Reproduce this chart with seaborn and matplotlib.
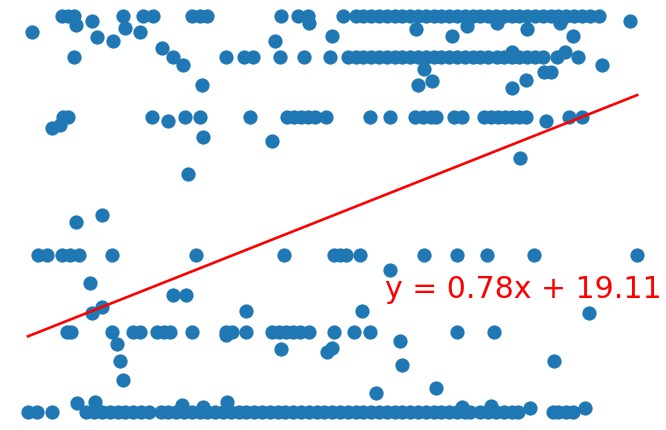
import numpy as np
import pandas as pd
import matplotlib
matplotlib.use('Agg')
import matplotlib.pyplot as plt
import seaborn as sns


# points, grouped by the horizontal band they sit in
# top band (y = 100)
x_top = [4.4, 5.1, 5.9, 12.2, 14.7, 16.0, 21.0, 22.1, 22.9, 32.4, 34.6, 35.9, 40.4,
         42, 43, 44, 45, 46, 47, 48, 49, 50, 51, 52, 53, 54, 55, 56, 57, 58, 59,
         60, 61, 62, 63, 64, 65, 66, 67, 68, 69, 70, 71, 72, 73.2]
y_top = [100] * len(x_top)

# band around y = 89.6
x_b90 = [5.9, 18.6, 25.4, 27.7, 28.8, 32.3, 35.4, 38.7,
         41, 42, 43, 44, 45, 46, 47, 48, 49, 50, 51, 52, 53, 54, 55, 56, 57, 58, 59,
         60.1, 61, 62, 63, 64, 65, 66, 67.8, 70.5]
y_b90 = [89.6] * len(x_b90)

# band around y = 74.5
x_b75 = [4.5, 5.1, 15.9, 20.1, 22.1, 28.5, 33.2, 34.1, 35.0, 35.9, 36.8, 38.2, 43.8,
         46.4, 49.6, 50.6, 51.7, 52.3, 54.6, 55.6, 58.5, 59.4, 60.3, 61.2, 62.1, 62.9,
         63.8, 69.4, 71.0]
y_b75 = [74.5] * len(x_b75)

# band around y = 39.6
x_b40 = [1.3, 2.4, 4.4, 5.4, 6.5, 10.8, 21.5, 32.8, 39.2, 40.0, 40.8, 42.6, 50.8,
         55.0, 58.8, 64.9, 78.1]
y_b40 = [39.6] * len(x_b40)

# band around y = 20.2
x_b20 = [5.0, 5.5, 10.8, 13.5, 14.4, 16.5, 17.4, 18.2, 21.0, 25.4, 26.2, 27.9, 31.3,
         32.2, 33.1, 34.0, 34.9, 36.0, 39.2, 41.8, 43.8, 55.0, 59.7]
y_b20 = [20.2] * len(x_b20)

# bottom band (y = 0)
x_bot = [0.0, 1.2, 3.1, 7.5, 8.5, 9.5, 10.5, 11.5, 12.5, 13.5, 14.5, 15.5,
         17, 18, 19, 20, 21, 22, 23, 24, 25, 26, 27, 28, 29, 30, 31, 32, 33, 34, 35,
         36, 37, 38, 39, 40, 41, 42, 43, 44, 45, 46, 47, 48, 49, 50, 51, 52, 53,
         54, 55, 56, 56.7, 58, 59, 60, 61, 62, 62.8, 67.3, 68, 69, 69.9]
y_bot = [0] * len(x_bot)

# scattered points between the bands
x_other = [6.2, 8.2, 12.4, 0.5, 8.8, 10.9, 14.4, 17.2, 36.0, 49.7, 56.3, 60.1, 64.0,
           68.2, 77.2, 31.7, 39.0, 54.4, 69.9,
           62.1, 68.8, 19.9, 73.6, 50.8, 50.0, 51.8, 66.2, 67.1, 63.8, 62.1, 22.3,
           3.1, 4.1, 17.9, 66.4, 22.4, 31.3, 20.5, 63.1, 9.5, 6.2,
           46.4, 7.9, 18.6, 20.3, 8.2, 9.5, 27.9, 42.8, 71.9, 25.4,
           11.4, 11.8, 12.2, 32.4, 38.3, 39.0, 47.7, 47.9, 67.4, 44.6, 52.3,
           6.3, 8.6, 19.7, 22.4, 25.5, 64.4, 71.4, 55.6, 59.3]
y_other = [97.7, 98.7, 97.0, 96.0, 94.7, 93.7, 96.0, 91.9, 98.2, 96.7, 97.5, 98.2, 96.7,
           98.2, 98.7, 93.7, 94.9, 94.9, 94.9,
           90.9, 90.9, 87.6, 87.6, 86.6, 82.6, 83.6, 85.9, 85.9, 83.8, 81.8, 82.6,
           71.7, 72.5, 73.5, 73.5, 69.4, 68.4, 60.1, 64.1, 49.7, 48.0,
           35.9, 32.6, 29.5, 29.5, 25.0, 26.5, 25.5, 25.5, 25.0, 19.4,
           17.2, 12.9, 8.1, 15.9, 15.2, 16.2, 17.9, 11.9, 12.9, 4.8, 6.1,
           2.3, 2.5, 1.8, 1.3, 2.5, 1.0, 1.0, 1.2, 1.4]

slope = 0.78
intercept = 19.11
line_label = 'y = 0.78x + 19.11'

df = pd.DataFrame({
    'x': x_top + x_b90 + x_b75 + x_b40 + x_b20 + x_bot + x_other,
    'y': y_top + y_b90 + y_b75 + y_b40 + y_b20 + y_bot + y_other,
})

fig = plt.figure(figsize=(6.66, 4.30), dpi=100)
ax = fig.add_axes([0, 0, 1, 1])

sns.scatterplot(data=df, x='x', y='y', s=105, color='#1f77b4', linewidth=0, ax=ax)

# regression line over the x range of the data
x_fit = np.array([df['x'].min(), df['x'].max()])
sns.lineplot(x=x_fit, y=slope * x_fit + intercept, color='red', linewidth=1.9, ax=ax)

ax.text(45.8, 28.8, line_label, fontsize=21.6, color='red')

ax.set_xlim(-3.59, 81.8)
ax.set_ylim(-4.55, 104.04)
ax.axis('off')

fig.savefig('out.png', dpi=100)
